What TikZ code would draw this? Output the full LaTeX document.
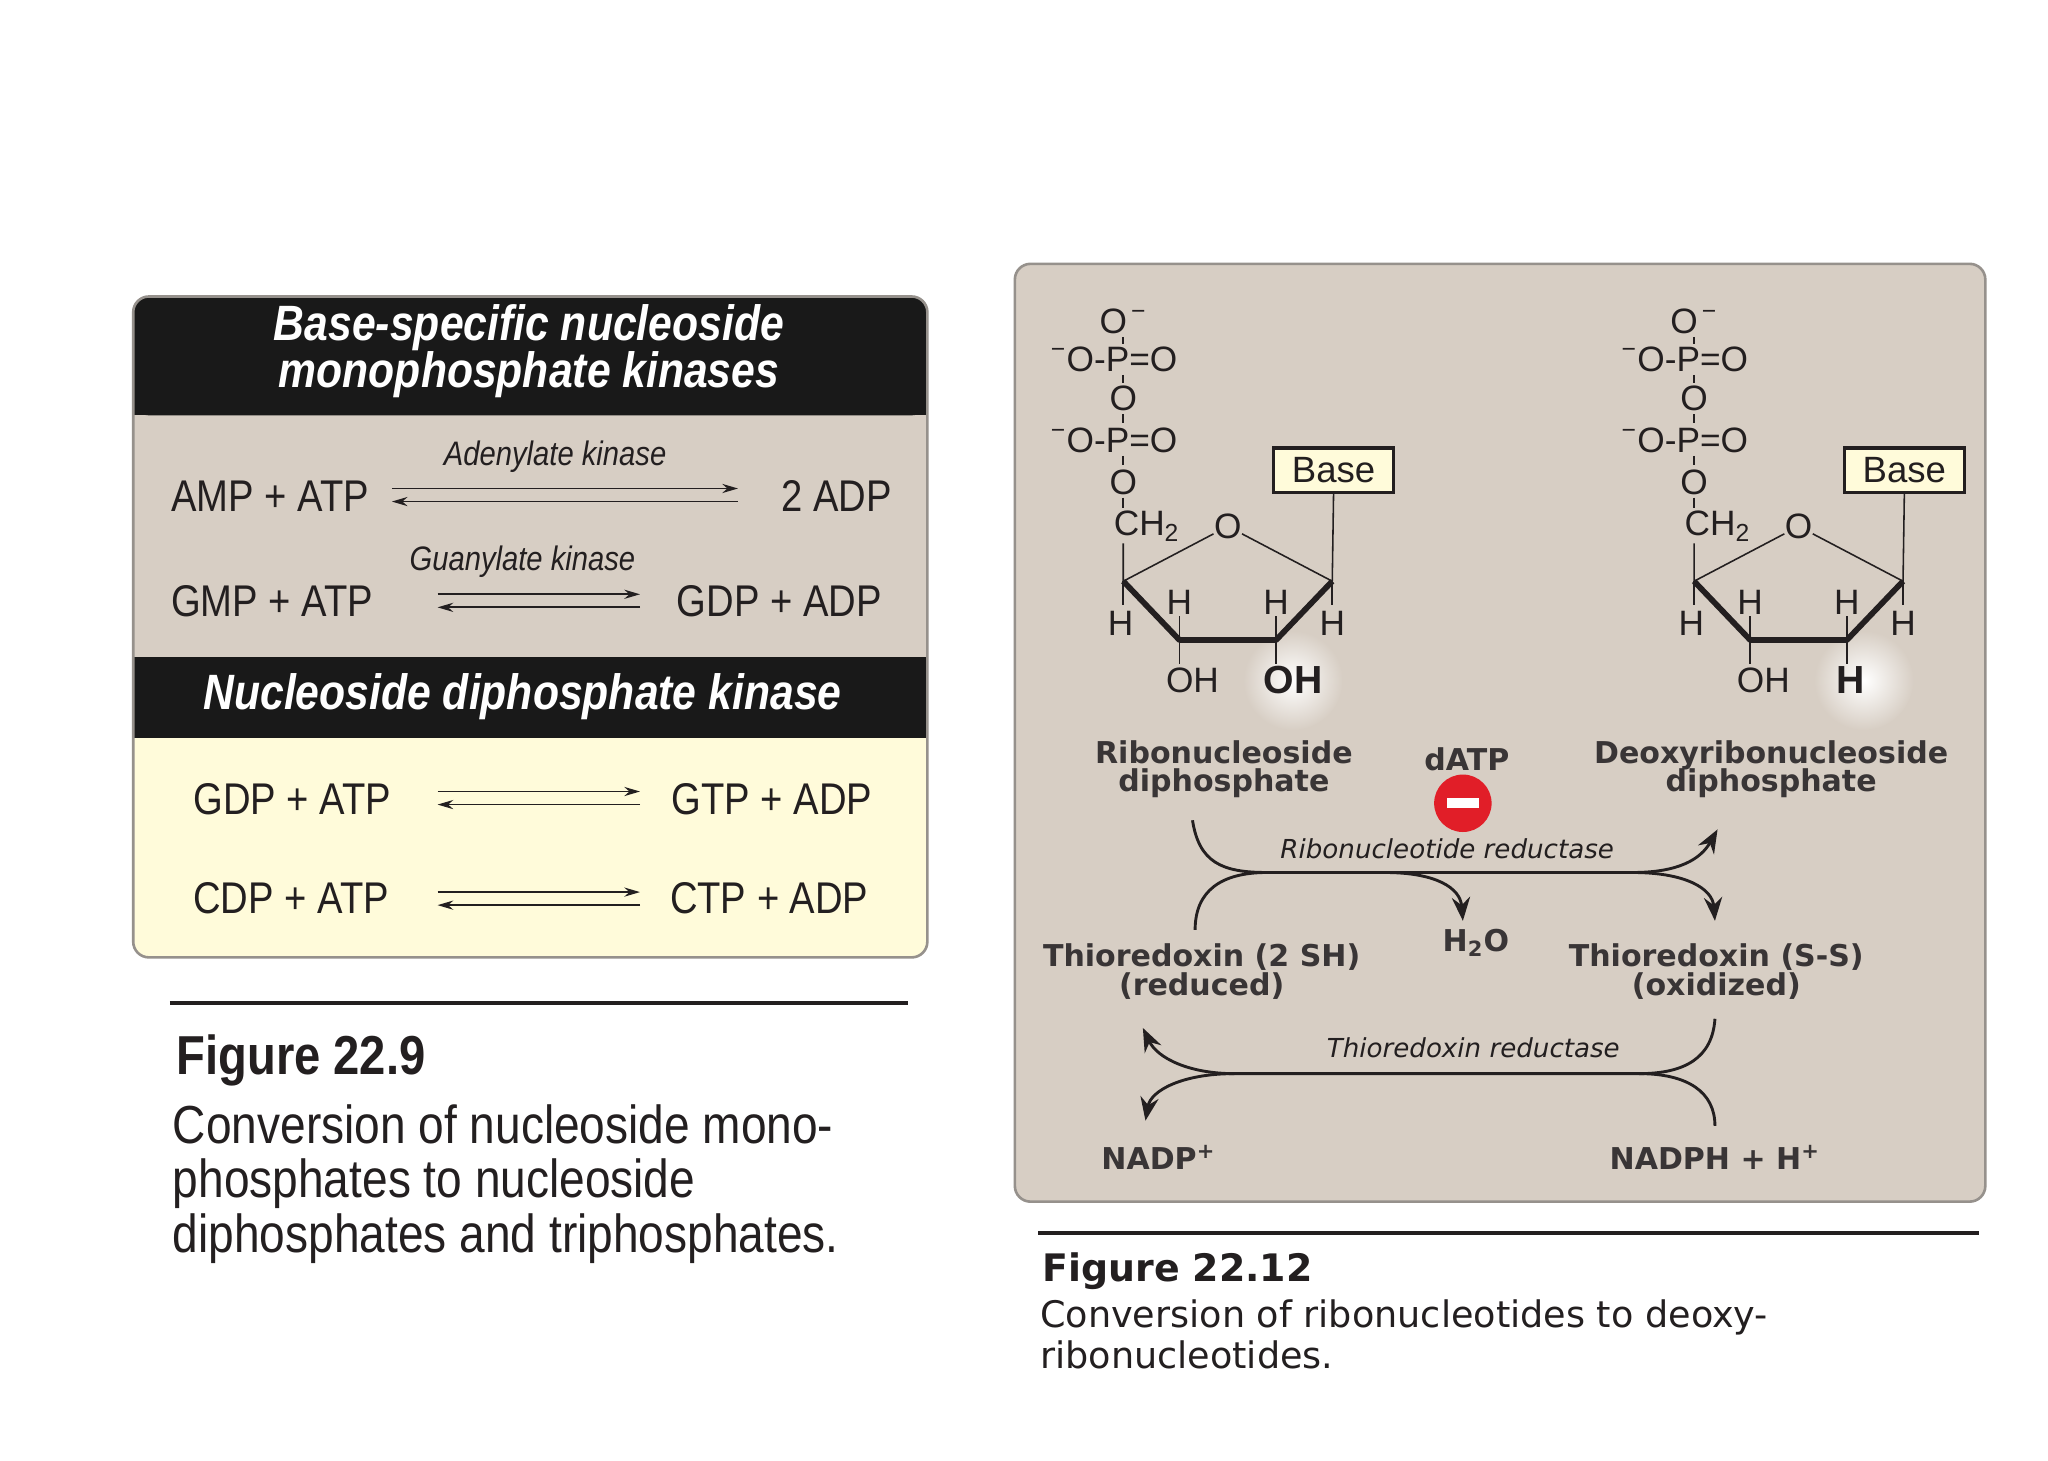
\documentclass[tikz,border=0pt]{standalone}
\usepackage{fontspec}
\setmainfont{Liberation Sans}
\newfontfamily\narrowf[FakeStretch=0.86]{Liberation Sans}
\newfontfamily\dejaf{DejaVu Sans}
\usetikzlibrary{arrows.meta}
\definecolor{panel}{RGB}{215,206,196}
\definecolor{ltyel}{RGB}{255,251,218}
\definecolor{bordg}{RGB}{150,145,140}
\definecolor{txt}{RGB}{35,31,32}
\definecolor{minusred}{RGB}{225,30,40}
\tikzset{
  eq/.style={font=\narrowf\fontsize{17}{19}\selectfont, text=txt},
  enz/.style={font=\narrowf\itshape\fontsize{13}{15}\selectfont, text=txt},
  hdr/.style={font=\narrowf\bfseries\itshape\fontsize{19}{20}\selectfont, text=white, align=center},
  mol/.style={font=\fontsize{13.5}{14}\selectfont, text=txt, inner sep=0pt},
  lab/.style={font=\dejaf\bfseries\fontsize{11.5}{13}\selectfont, text=txt!90, align=center},
  enzr/.style={font=\dejaf\itshape\fontsize{10}{12}\selectfont, text=txt},
  rxn/.style={line width=1.1pt, draw=txt},
  rtip/.style={-{Stealth[length=9pt,width=7pt,inset=3pt]}},
  fwd/.style={line width=0.7pt, draw=txt, -{Stealth[length=6pt,width=3.5pt]}},
}
\newcommand{\nucmol}[1]{%
  \node[mol] (pO1) at (860,246) {O\textsuperscript{\,−}};
  \node[mol] (pP1) at (853,275) {\textsuperscript{−}O-P=O};
  \node[mol] (pO2) at (860,305) {O};
  \node[mol] (pP2) at (853,337) {\textsuperscript{−}O-P=O};
  \node[mol] (pO3) at (860,369) {O};
  \node[mol] (ch2) at (878,403) {CH\textsubscript{2}};
  \node[mol] (rO) at (940,403) {O};
  \draw[line width=0.6pt,txt] (860,258)--(860,263) (860,287)--(860,293) (860,317)--(860,324) (860,349)--(860,356) (860,381)--(860,389);
  \coordinate (c4) at (860,445); \coordinate (c3) at (903,490);
  \coordinate (c2) at (977,490); \coordinate (c1) at (1020,445);
  \node[draw=txt, line width=1.2pt, fill=ltyel, mol, minimum width=46pt, minimum height=17pt, font=\fontsize{14}{15}\selectfont] (base) at (1021,360) {Base};
  \draw[line width=0.6pt,txt] (860,416)--(c4) (c4)--(rO) (rO)--(c1) (base.south)--(c1);
  \draw[line width=2.2pt,txt,line join=round] (c4)--(c3)--(c2)--(c1);
  \draw[line width=0.6pt,txt] (c4)--(860,463) (c1)--(1020,463) (c3)--(903,472) (c2)--(977,472) (c3)--(903,508) (c2)--(977,508);
  \node[mol] (h4) at (858,477) {H};
  \node[mol] (h1) at (1020,477) {H};
  \node[mol] (h3) at (903,461) {H};
  \node[mol] (h2) at (977,461) {H};
  \node[mol] (oh3) at (913,521) {OH};
  \node[mol, font=\bfseries\fontsize{15}{16}\selectfont] (x2) at (990,521) {#1};
}
\begin{document}
\begin{tikzpicture}[x=0.5pt,y=-0.5pt]
\useasboundingbox (0,0) rectangle (1568,1118);
\fill[white] (0,0) rectangle (1568,1118);
% ---------- left panel
\fill[ltyel, rounded corners=6pt] (102,227) rectangle (710,733);
\fill[panel] (102,318) rectangle (710,503);
\fill[black!90, rounded corners=6pt] (102,227) rectangle (710,318);
\fill[black!90] (102,290) rectangle (710,318);
\fill[black!90] (102,503) rectangle (710,565);
\draw[bordg, line width=1pt, rounded corners=6pt] (102,227) rectangle (710,733);
\node[hdr] (h1) at (405,269) {Base-specific nucleoside\\[-2pt]monophosphate kinases};
\node[hdr] (h2) at (400,533) {Nucleoside diphosphate kinase};
\node[eq, anchor=west] (a1) at (124,380) {AMP + ATP};
\node[eq, anchor=east] (a2) at (690,380) {2 ADP};
\node[enz] (ea) at (425,350) {Adenylate kinase};
\draw[fwd] (300,374) -- (565,374);
\draw[fwd] (565,384) -- (300,384);
\node[eq, anchor=west] (b1) at (124,460) {GMP + ATP};
\node[eq, anchor=east] (b2) at (682,460) {GDP + ADP};
\node[enz] (eb) at (400,430) {Guanylate kinase};
\draw[fwd] (335,455) -- (490,455);
\draw[fwd] (490,465) -- (335,465);
\node[eq, anchor=west] (c1) at (141,612) {GDP + ATP};
\node[eq, anchor=east] (c2) at (675,612) {GTP + ADP};
\draw[fwd] (335,606) -- (490,606);
\draw[fwd] (490,616) -- (335,616);
\node[eq, anchor=west] (d1) at (141,688) {CDP + ATP};
\node[eq, anchor=east] (d2) at (672,688) {CTP + ADP};
\draw[fwd] (335,683) -- (490,683);
\draw[fwd] (490,693) -- (335,693);
\draw[txt, line width=1.6pt] (130,768) -- (695,768);
\node[anchor=west, font=\narrowf\bfseries\fontsize{21}{22}\selectfont, text=txt] (f9) at (128,812) {Figure 22.9};
\node[anchor=north west, align=left, font=\narrowf\fontsize{20.5}{21}\selectfont, text=txt, inner sep=0pt] (c9) at (132,845) {Conversion of nucleoside mono-\\phosphates to nucleoside\\diphosphates and triphosphates.};
% ---------- right panel
\fill[panel, rounded corners=6pt] (777,202) rectangle (1520,920);
\draw[bordg, line width=1pt, rounded corners=6pt] (777,202) rectangle (1520,920);
\shade[inner color=white, outer color=panel] (990,521) circle (38);
\shade[inner color=white, outer color=panel] (1427,521) circle (38);
\nucmol{OH}
\begin{scope}[shift={(437,0)}]
\nucmol{\hspace*{-10pt}H}
\end{scope}
\node[lab] (rib) at (937,589) {Ribonucleoside\\[-2pt]diphosphate};
\node[lab] (deo) at (1356,589) {Deoxyribonucleoside\\[-2pt]diphosphate};
\node[lab] (datp) at (1123,581) {dATP};
\node[circle, fill=minusred, minimum size=22pt, inner sep=0pt] (inh) at (1120,615) {};
\fill[white] (1108,611) rectangle (1132,619);
\node[lab] (t2) at (920,744) {Thioredoxin (2 SH)\\[-2pt](reduced)};
\node[lab] (tss) at (1314,744) {Thioredoxin (S-S)\\[-2pt](oxidized)};
\node[lab] (h2o) at (1130,722) {H\textsubscript{2}O};
\node[lab] (nadp) at (887,886) {NADP\textsuperscript{+}};
\node[lab] (nadph) at (1313,886) {NADPH + H\textsuperscript{+}};
\node[enzr] (rr) at (1108,650) {Ribonucleotide reductase};
\node[enzr] (tr) at (1128,802) {Thioredoxin reductase};
\coordinate (jl) at (970,668); \coordinate (jr) at (1250,668);
\coordinate (kl) at (945,822); \coordinate (kr) at (1255,822);
\draw[rxn, rtip] (913,628) .. controls (918,660) and (935,668) .. (jl) -- (jr) .. controls (1285,668) and (1302,658) .. (1315,635);
\draw[rxn, rtip] (915,712) .. controls (915,682) and (935,668) .. (jl) -- (1060,668) .. controls (1100,668) and (1118,680) .. (1120,705);
\draw[rxn, rtip] (jr) .. controls (1290,668) and (1311,680) .. (1313,705);
\draw[rxn, rtip] (1313,780) .. controls (1311,810) and (1290,822) .. (kr) -- (kl) .. controls (910,822) and (886,810) .. (875,787);
\draw[rxn, rtip] (kl) .. controls (905,822) and (881,835) .. (877,858);
\draw[rxn] (1313,862) .. controls (1313,836) and (1292,822) .. (kr);
\draw[txt, line width=1.4pt] (795,944) -- (1515,944);
\node[anchor=west, font=\dejaf\bfseries\fontsize{14.5}{16}\selectfont, text=txt] (f12) at (791,973) {Figure 22.12};
\node[anchor=north west, align=left, font=\dejaf\fontsize{14}{15.5}\selectfont, text=txt, inner sep=0pt] (c12) at (796,995) {Conversion of ribonucleotides to deoxy-\\ribonucleotides.};
\end{tikzpicture}
\end{document}
